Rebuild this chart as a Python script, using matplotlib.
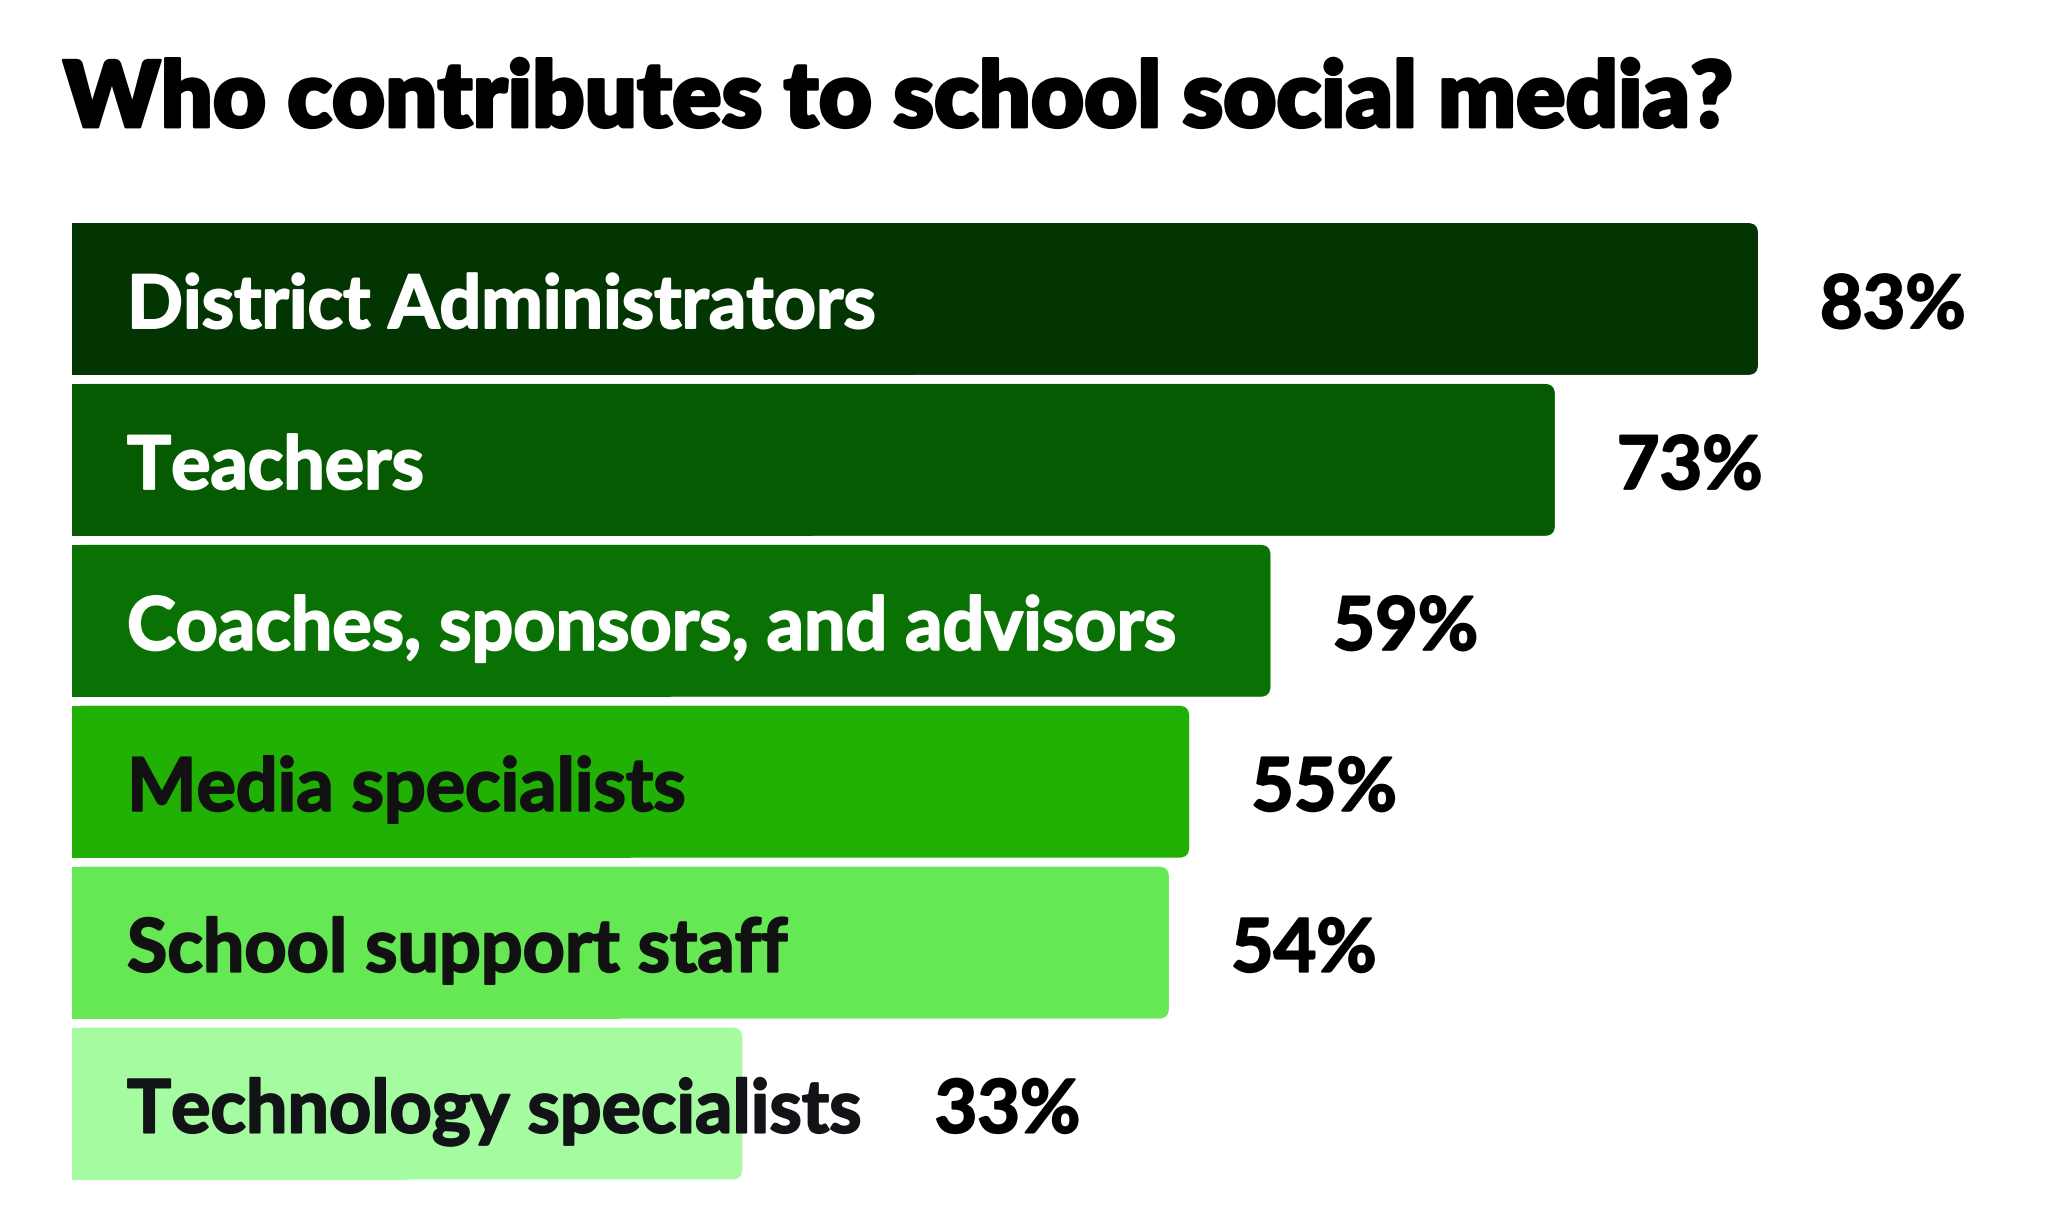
import matplotlib.pyplot as plt
import matplotlib.patheffects as pe
from matplotlib.patches import FancyBboxPatch, Rectangle

plt.rcParams['font.family'] = ['Lato', 'DejaVu Sans']

categories = ['District Administrators', 'Teachers', 'Coaches, sponsors, and advisors',
              'Media specialists', 'School support staff', 'Technology specialists']
values = [83, 73, 59, 55, 54, 33]
bar_colors = ['#023502', '#055a02', '#0a7204', '#21b004', '#66e855', '#a5fca0']
text_colors = ['white', 'white', 'white', '#111111', '#111111', '#111317']
title = 'Who contributes to school social media?'

W, H = 2048, 1229
fig = plt.figure(figsize=(W / 100, H / 100), dpi=100)
x0_px = 72
px_per_unit = (1758 - x0_px) / 83
ax = fig.add_axes([x0_px / W, 1 - 1184 / H, 1 - x0_px / W, (1184 - 218.5) / H])
ax.set_xlim(0, (W - x0_px) / px_per_unit)
ax.set_ylim(len(values) - 0.5, -0.5)
ax.axis('off')

bar_h = 152 / 161
# data units per pixel in x and y, for round corners
ux = 1 / px_per_unit
uy = 1 / 161
r_px = 10
for i, (v, c) in enumerate(zip(values, bar_colors)):
    y0 = i - bar_h / 2
    box = FancyBboxPatch((0, y0), v, bar_h,
                         boxstyle=f'round,pad=0,rounding_size={r_px * ux}',
                         mutation_aspect=uy / ux, fc=c, ec='none')
    ax.add_patch(box)
    ax.add_patch(Rectangle((0, y0), v / 2, bar_h, fc=c, ec='none'))

fig.canvas.draw()
renderer = fig.canvas.get_renderer()
inv = ax.transData.inverted()
for i, (cat, v, tc) in enumerate(zip(categories, values, text_colors)):
    t = ax.text(55 / px_per_unit, i + 0.18, cat, color=tc, fontsize=53,
                fontweight='bold', va='baseline', ha='left',
                path_effects=[pe.withStroke(linewidth=1.5, foreground=tc)])
    bb = t.get_window_extent(renderer)
    label_end = inv.transform((bb.x1, bb.y0))[0]
    xv = v + 62 / px_per_unit
    if label_end > v:
        xv = max(xv, label_end + 73 / px_per_unit)
    ax.text(xv, i + 0.18, f'{v}%', color='black', fontsize=53,
            fontweight='bold', va='baseline', ha='left',
            path_effects=[pe.withStroke(linewidth=1.5, foreground='black')])

fig.text(63 / W, 1 - 127 / H, title, fontsize=66, fontweight='heavy',
         va='baseline', ha='left', color='black',
         path_effects=[pe.withStroke(linewidth=2, foreground='black')])

fig.savefig('out.png', dpi=100, facecolor='white')
